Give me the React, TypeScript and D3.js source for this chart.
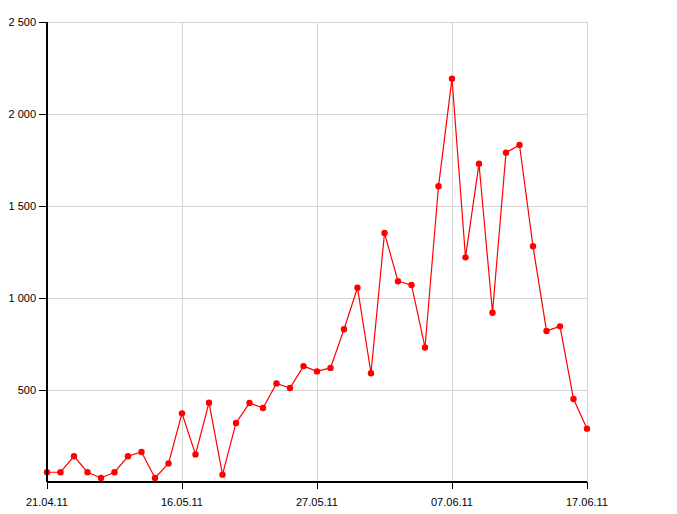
import React from "react";
import * as d3 from "d3";

const values: number[] = [
  53, 53, 140, 53, 22, 53, 140, 163, 22, 101,
  373, 150, 431, 40, 321, 429, 402, 536, 511, 630,
  601, 620, 830, 1056, 591, 1353, 1091, 1071, 731, 1607,
  2192, 1221, 1730, 920, 1790, 1832, 1281, 821, 846, 451,
  290,
];
const xTickIndex: number[] = [0, 10, 20, 30, 40];
const xTickLabels: string[] = ["21.04.11", "16.05.11", "27.05.11", "07.06.11", "17.06.11"];
const yTicks: number[] = [500, 1000, 1500, 2000, 2500];

const W = 677;
const H = 514;
const margin = { left: 47, right: 90, top: 22, bottom: 32 };

const fmt = (v: number) => d3.format(",")(v).replace(/,/g, " ");

export default function App() {
  const x = d3.scaleLinear().domain([0, values.length - 1]).range([margin.left, W - margin.right]);
  const y = d3.scaleLinear().domain([0, 2500]).range([H - margin.bottom, margin.top]);
  const line = d3
    .line<number>()
    .x((_, i) => x(i))
    .y((d) => y(d));
  const x0 = x.range()[0];
  const x1 = x.range()[1];
  const y0 = y.range()[0];
  const y1 = y.range()[1];
  const font = "'Liberation Sans', Arial, sans-serif";
  return (
    <svg
      width={W}
      height={H}
      style={{ position: "fixed", left: 0, top: 0, background: "#fff" }}
    >
      <g shapeRendering="crispEdges">
        {yTicks.map((t) => (
          <line key={"gy" + t} x1={x0} x2={x1} y1={y(t)} y2={y(t)} stroke="#d4d4d4" strokeWidth={1} />
        ))}
        {xTickIndex.map((t) => (
          <line key={"gx" + t} x1={x(t)} x2={x(t)} y1={y0} y2={y1} stroke="#d4d4d4" strokeWidth={1} />
        ))}
      </g>
      <path d={line(values) || ""} fill="none" stroke="#ff0000" strokeWidth={1.2} />
      {values.map((v, i) => (
        <circle key={i} cx={x(i)} cy={y(v)} r={3.2} fill="#ff0000" />
      ))}
      <g shapeRendering="crispEdges">
        <line x1={x0} x2={x1} y1={y0} y2={y0} stroke="#000" strokeWidth={2} />
        <line x1={x0} x2={x0} y1={y0} y2={y1} stroke="#000" strokeWidth={2} />
        {yTicks.map((t) => (
          <line key={"ty" + t} x1={x0 - 8} x2={x0} y1={y(t)} y2={y(t)} stroke="#000" strokeWidth={1} />
        ))}
        {xTickIndex.map((t) => (
          <line key={"tx" + t} x1={x(t)} x2={x(t)} y1={y0} y2={y0 + 7} stroke="#000" strokeWidth={1} />
        ))}
      </g>
      {yTicks.map((t) => (
        <text
          key={"ly" + t}
          x={x0 - 11}
          y={y(t)}
          dy="0.35em"
          textAnchor="end"
          fontFamily={font}
          fontSize={11}
          fill="#000"
        >
          {fmt(t)}
        </text>
      ))}
      {xTickIndex.map((t, i) => (
        <text
          key={"lx" + t}
          x={x(t)}
          y={y0 + 24}
          textAnchor="middle"
          fontFamily={font}
          fontSize={11}
          fill="#000"
        >
          {xTickLabels[i]}
        </text>
      ))}
    </svg>
  );
}
